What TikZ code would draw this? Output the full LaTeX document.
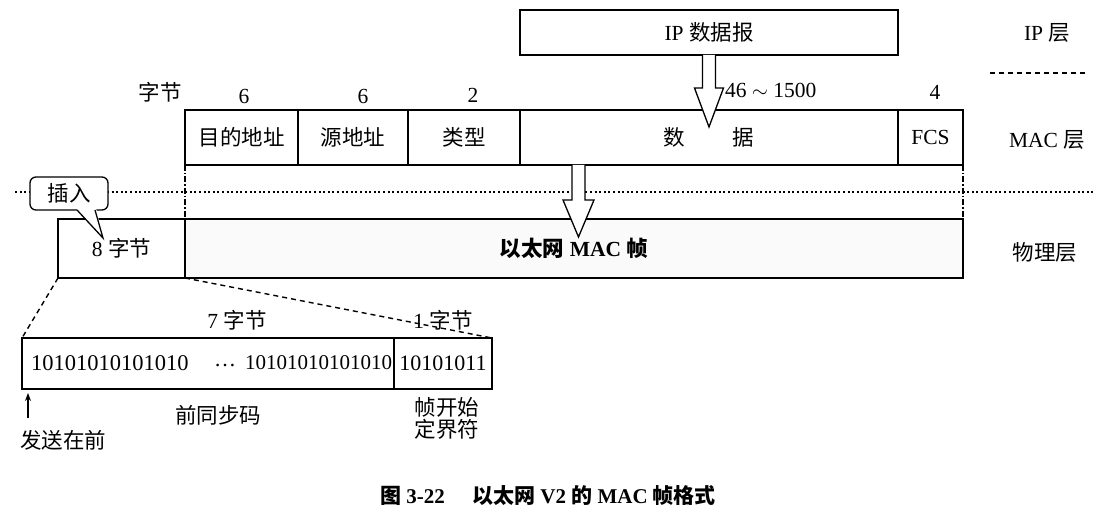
\documentclass[tikz,border=0pt]{standalone}
\usepackage{fontspec}
\setmainfont{Liberation Serif}
\newfontfamily\cjk{Noto Sans CJK SC}
\usetikzlibrary{calc,arrows.meta}
\tikzset{
  cell/.style={draw, line width=1.3pt, inner sep=0pt, outer sep=0pt, anchor=north west, font=\fontsize{21.5}{24}\selectfont},
  lbl/.style={inner sep=0pt, outer sep=0pt, font=\fontsize{21.5}{22}\selectfont},
  guide/.style={line width=1.2pt, dash pattern=on 2pt off 2.6pt},
  dashdot/.style={line width=1.2pt, dash pattern=on 6pt off 2pt on 1.5pt off 2pt},
  ddash/.style={line width=1.4pt, dash pattern=on 5pt off 4pt},
  blockarrow/.style={draw, fill=white, line width=1.3pt, line join=miter},
}
\begin{document}
\begin{tikzpicture}[x=1pt,y=-1pt]
\useasboundingbox (0,0) rectangle (1108,521);

% guide line between MAC and physical layers
\draw[guide] (15,192) -- (1093,192);
\draw[ddash] (990,73) -- (1088,73);

% IP datagram
\node[cell, minimum width=378pt, minimum height=45pt] (ip) at (520,10) {IP {\cjk 数据报}};

% MAC frame fields
\node[cell, minimum width=113pt, minimum height=55pt] (dst) at (185,110) {\cjk 目的地址};
\node[cell, minimum width=110pt, minimum height=55pt] (src) at (298,110) {\cjk 源地址};
\node[cell, minimum width=112pt, minimum height=55pt] (typ) at (408,110) {\cjk 类型};
\node[cell, minimum width=378pt, minimum height=55pt] (dat) at (520,110) {\cjk 数\hspace{48pt}据};
\node[cell, minimum width=65pt, minimum height=55pt] (fcs) at (898,110) {FCS};

% field sizes
\node[lbl] (zj) at (160,92) {\cjk 字节};
\node[lbl] (n1) at (244,96) {6};
\node[lbl] (n2) at (363,96) {6};
\node[lbl] (n3) at (473,95) {2};
\node[lbl, anchor=west] (n4) at (725,90) {46 $\sim$ 1500};
\node[lbl] (n5) at (935,92) {4};

% layer labels
\node[lbl] (lip) at (1047,33) {IP {\cjk 层}};
\node[lbl] (lmac) at (1047,140) {MAC {\cjk 层}};
\node[lbl] (lphy) at (1045,252) {\cjk 物理层};

% physical layer
\node[cell, minimum width=127pt, minimum height=59pt] (pre) at (58,219) {8 {\cjk 字节}};
\node[cell, fill=gray!4, minimum width=778pt, minimum height=59pt] (frm) at (185,219) {\bfseries{\cjk\bfseries 以太网} MAC {\cjk\bfseries 帧}};

% vertical guides
\draw[dashdot] (dst.south west) -- (frm.north west);
\draw[dashdot] (fcs.south east) -- (frm.north east);

% block arrows
\draw[blockarrow] ($(ip.south)+(-6.5,0)$) -- ++(0,33) -- ++(-8,0) -- ++(14.5,39) -- ++(14.5,-39) -- ++(-8,0) -- ++(0,-33);
\draw[blockarrow] ($(dat.south west)+(52,0)$) -- ++(0,35) -- ++(-9,0) -- ++(15.5,37) -- ++(15.5,-37) -- ++(-9,0) -- ++(0,-35);

% callout
\draw[line width=1.3pt, fill=white, rounded corners=6pt] (30,177) rectangle (108,210);
\fill[white] (76,208) -- (103,238) -- (96,208) -- cycle;
\draw[line width=1.3pt, line join=miter] (77,210) -- (103,238) -- (95,210);
\node[lbl] (ins) at (69,193) {\cjk 插入};

% preamble detail
\node[cell, minimum width=372pt, minimum height=51pt] (sync) at (22,338) {};
\node[cell, minimum width=98pt, minimum height=51pt, font=\fontsize{22}{24}\selectfont] (sfd) at (394,338) {10101011};
\node[lbl, anchor=west, font=\fontsize{22.5}{24}\selectfont] (b1) at (31,363) {10101010101010};
\node[lbl, font=\fontsize{22}{24}\selectfont] (b2) at (225,366) {\dots};
\node[lbl, anchor=east, font=\fontsize{21}{24}\selectfont] (b3) at (392,363) {10101010101010};

\draw[ddash] (pre.south west) -- (sync.north west);
\draw[ddash] (pre.south east) -- (sfd.north east);

\node[lbl] (l7) at (237,320) {7 {\cjk 字节}};
\node[lbl] (l1) at (443,320) {1 {\cjk 字节}};

\coordinate (send) at (28,418);
\draw[line width=1.3pt, -{Stealth[length=8pt,width=6pt]}] (send) -- ($(sync.south west)+(6,4)$);
\node[lbl] (sendlbl) at (63,440) {\cjk 发送在前};
\node[lbl] (syncl) at (218,415) {\cjk 前同步码};
\node[lbl, align=center] (sfdl) at (447,418) {\cjk 帧开始\\\cjk 定界符};

% caption
\node[lbl, font=\fontsize{21}{24}\selectfont\bfseries] (cap) at (548,496) {{\cjk\bfseries 图} 3-22\hspace{1.3em}{\cjk\bfseries 以太网} V2 {\cjk\bfseries 的} MAC {\cjk\bfseries 帧格式}};
\end{tikzpicture}
\end{document}
